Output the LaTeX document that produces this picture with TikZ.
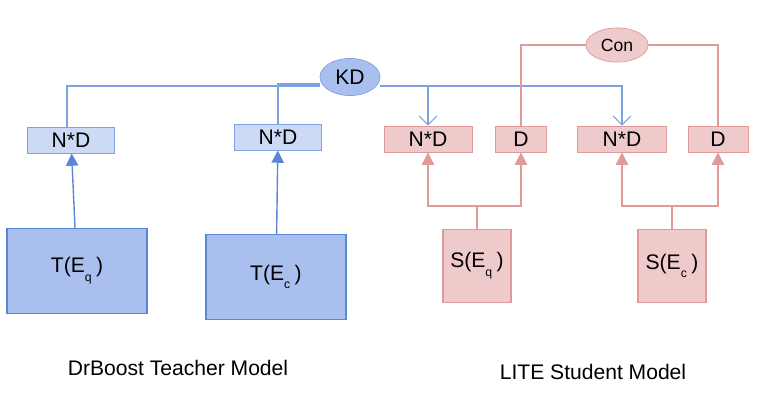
\documentclass[tikz,border=0pt]{standalone}
\usepackage{fontspec}
\setmainfont{Liberation Sans}
\usetikzlibrary{arrows.meta,positioning,shapes.geometric}
\definecolor{tfill}{HTML}{A9C0EE}
\definecolor{tdraw}{HTML}{5B86D6}
\definecolor{lfill}{HTML}{CCDAF5}
\definecolor{ldraw}{HTML}{7FA2E3}
\definecolor{sfill}{HTML}{EFCACA}
\definecolor{sdraw}{HTML}{E09A9A}
\newcommand{\sub}[1]{$_{\raisebox{-0.5ex}{\scriptsize #1}}$\,}
\tikzset{
  tbig/.style={draw=tdraw,fill=tfill,thick,minimum width=2.8cm,minimum height=1.7cm,font=\large},
  tsmall/.style={draw=ldraw,fill=lfill,minimum width=1.75cm,minimum height=0.48cm,font=\large},
  sbig/.style={draw=sdraw,fill=sfill,thick,minimum width=1.36cm,minimum height=1.46cm,font=\large},
  ssmall/.style={draw=sdraw,fill=sfill,minimum height=0.48cm,font=\large},
  tline/.style={draw=ldraw,semithick},
  sline/.style={draw=sdraw,semithick},
}
\begin{document}
\begin{tikzpicture}[x=0.02cm,y=-0.02cm,>={Triangle[length=7pt,width=7pt]}]
\useasboundingbox (0,0) rectangle (762,405);

\node[ellipse,draw=ldraw,fill=tfill,minimum width=1.2cm,minimum height=0.52cm,font=\large] (kd) at (350,77) {KD};
\node[ellipse,draw=sdraw,fill=sfill,minimum width=1.24cm,minimum height=0.52cm] (con) at (617,45) {Con};

\node[tsmall] (tnd1) at (71,140) {N*D};
\node[tsmall] (tnd2) at (278,137) {N*D};
\node[tbig] (teq) at (77,271) {T(E\sub{q})};
\node[tbig] (tec) at (276,277) {T(E\sub{c})};

\node[ssmall,minimum width=1.76cm] (snd1) at (428,139) {N*D};
\node[ssmall,minimum width=1.02cm] (sd1) at (521,139) {D};
\node[ssmall,minimum width=1.78cm] (snd2) at (622,139) {N*D};
\node[ssmall,minimum width=1.2cm] (sd2) at (718,139) {D};
\node[sbig] (seq) at (477,266) {S(E\sub{q})};
\node[sbig] (sec) at (672,266) {S(E\sub{c})};

\coordinate (sj1) at (477,206);
\coordinate (sj2) at (672,206);

% teacher
\draw[->,draw=tdraw,thick] (teq) -- (tnd1);
\draw[->,draw=tdraw,thick] (tec) -- (tnd2);

% KD
\draw[tline] (kd.west |- 0,86) -| (tnd1.north -| 67,0);
\draw[tline] (kd.west |- 0,84) -| (tnd2.north);
\draw[tline,-{Straight Barb[length=5pt]}] (kd.east |- 0,86) -| (snd1.north);
\draw[tline,-{Straight Barb[length=5pt]}] (kd.east |- 0,86) -| (snd2.north);

% Con
\draw[sline] (con.west) -| (sd1.north);
\draw[sline] (con.east) -| (sd2.north);

% student
\draw[sline] (seq.north) -- (sj1);
\draw[sline,->] (sj1) -| (snd1.south);
\draw[sline,->] (sj1) -| (sd1.south);
\draw[sline] (sec.north) -- (sj2);
\draw[sline,->] (sj2) -| (snd2.south);
\draw[sline,->] (sj2) -| (sd2.south);

\node[font=\large] (tlab) at (178,368) {DrBoost Teacher Model};
\node[font=\large] (slab) at (593,372) {LITE Student Model};
\end{tikzpicture}
\end{document}
